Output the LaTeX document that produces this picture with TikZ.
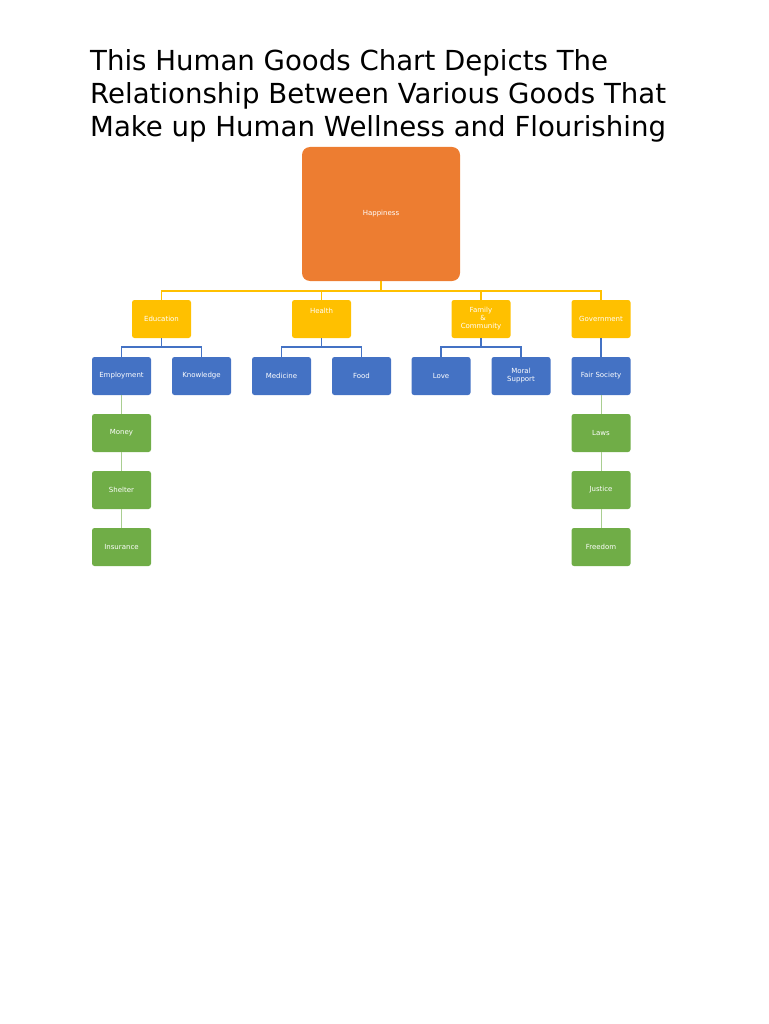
\documentclass[tikz,border=0pt]{standalone}
\usepackage{fontspec}
\setmainfont{DejaVu Sans}
\definecolor{orng}{HTML}{ED7D31}
\definecolor{yel}{HTML}{FFC000}
\definecolor{blu}{HTML}{4472C4}
\definecolor{grn}{HTML}{70AD47}
\begin{document}
\begin{tikzpicture}[x=1pt,y=-1pt,
  bx/.style={rounded corners=2.5pt,minimum width=59pt,minimum height=38pt,inner sep=1pt,text=white,font=\fontsize{7}{8}\selectfont,align=center},
  yb/.style={bx,fill=yel},
  bb/.style={bx,fill=blu},
  gb/.style={bx,fill=grn},
  yl/.style={draw=yel,line width=1.6pt},
  bl/.style={draw=blu,line width=1.6pt},
  gl/.style={draw=grn!60,line width=1pt}]
\useasboundingbox (0,0) rectangle (768,1024);
\node[anchor=north west,font=\fontsize{27.6}{33}\selectfont,align=left,inner sep=0] (title) at (90,49)
 {This Human Goods Chart Depicts The\\Relationship Between Various Goods That\\Make up Human Wellness and Flourishing};
\node[bx,fill=orng,minimum width=158pt,minimum height=134pt,rounded corners=8pt] (hap) at (381,214) {Happiness};
\node[yb] (edu) at (161.5,319) {Education};
\node[yb] (hea) at (321.5,319) {Health\\[8pt]};
\node[yb] (fam) at (481,319) {Family\\\hspace*{4pt}\&\\Community};
\node[yb] (gov) at (601,319) {Government};
\node[bb] (emp) at (121.5,376) {Employment};
\node[bb] (kno) at (201.5,376) {Knowledge};
\node[bb] (med) at (281.5,376) {Medicine};
\node[bb] (foo) at (361.5,376) {Food};
\node[bb] (lov) at (441,376) {Love};
\node[bb] (mor) at (521,376) {Moral\\Support};
\node[bb] (fai) at (601,376) {Fair Society};
\node[gb] (mon) at (121.5,433) {Money};
\node[gb] (she) at (121.5,490) {Shelter};
\node[gb] (ins) at (121.5,547) {Insurance};
\node[gb] (law) at (601,433) {Laws};
\node[gb] (jus) at (601,490) {Justice};
\node[gb] (fre) at (601,547) {Freedom};
\foreach \c in {edu,hea,fam,gov}{\draw[yl] (hap.south) -- ++(0,10) -| (\c.north);}
\draw[bl] (edu.south) -- ++(0,9) -| (emp.north);
\draw[bl] (edu.south) -- ++(0,9) -| (kno.north);
\draw[bl] (hea.south) -- ++(0,9) -| (med.north);
\draw[bl] (hea.south) -- ++(0,9) -| (foo.north);
\draw[bl] (fam.south) -- ++(0,9) -| (lov.north);
\draw[bl] (fam.south) -- ++(0,9) -| (mor.north);
\draw[bl] (gov.south) -- (fai.north);
\draw[gl] (emp.south) -- (mon.north);
\draw[gl] (mon.south) -- (she.north);
\draw[gl] (she.south) -- (ins.north);
\draw[gl] (fai.south) -- (law.north);
\draw[gl] (law.south) -- (jus.north);
\draw[gl] (jus.south) -- (fre.north);
\end{tikzpicture}
\end{document}
